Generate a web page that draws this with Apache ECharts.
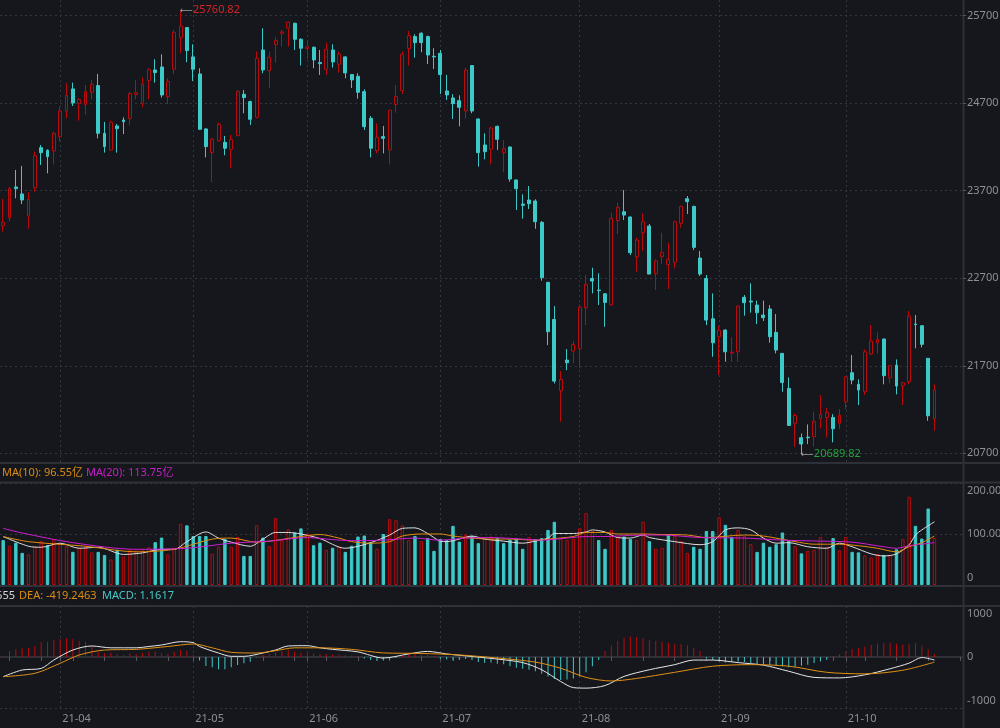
<!DOCTYPE html>
<html>
<head>
<meta charset="utf-8">
<script src="https://cdn.jsdelivr.net/npm/echarts@6/dist/echarts.min.js"></script>
<style>
html,body{margin:0;padding:0;background:#15171c;}
#main{width:1000px;height:728px;}
</style>
</head>
<body>
<div id="main"></div>
<script>
// 月份及每月交易日数
var months = ['21-03','21-04','21-05','21-06','21-07','21-08','21-09','21-10'];
var monthDays = [9,21,18,21,22,22,20,15];
var padSlots = 4;

// K线 [open, close, low, high]
var ohlc = [
[23301,23339,23232,23605],[23392,23727,23354,23746],[23743,23724,23613,23937],[23663,23594,23548,23983],
[23415,23602,23266,23682],[23735,24101,23689,24146],[24192,24135,23994,24223],[24162,24089,23899,24173],
[24154,24356,24002,24375],[24318,24611,24261,24661],[24607,24790,24527,24928],[24863,24703,24668,24935],
[24699,24741,24501,24756],[24684,24832,24569,24908],[24825,24916,24745,24966],[24901,24356,24299,25034],
[24356,24204,24135,24486],[24166,24482,24158,24501],[24440,24409,24135,24463],[24508,24489,24348,24539],
[24524,24809,24447,24828],[24798,24821,24745,24966],[24699,24920,24653,24996],[24958,25084,24745,25099],
[25080,25049,24935,25202],[25114,24794,24764,25259],[24775,24950,24691,24985],[25088,25510,25034,25537],
[25449,25583,25270,25760.82],[25564,25301,25168,25570],[25229,25088,24954,25373],[25034,24402,24394,25099],
[24406,24204,24082,24413],[24135,24291,23800,24299],[24272,24459,24261,24478],[24253,24185,24105,24326],
[24173,24284,23956,24337],[24329,24832,24326,24851],[24802,24764,24585,24851],[24718,24516,24451,24729],
[24539,25213,24527,25289],[25308,25080,25042,25556],[25072,25225,24870,25289],[25369,25415,25164,25453],
[25499,25514,25347,25537],[25556,25625,25347,25632],[25613,25430,25308,25620],[25430,25328,25130,25442],
[25324,25343,25202,25423],[25339,25194,25099,25347],[25164,25152,25023,25308],[25088,25316,25023,25392],
[25308,25171,25107,25373],[25145,25259,25049,25289],[25229,25046,24985,25235],[25027,24966,24874,25034],
[25007,24825,24752,25042],[24832,24432,24394,24859],[24527,24185,24082,24554],[24158,24310,24127,24470],
[24318,24299,24127,24440],[24166,24619,24002,24622],[24687,24775,24592,24908],[24844,25259,24806,25289],
[25324,25472,25130,25526],[25461,25392,25221,25488],[25499,25392,25282,25510],[25461,25251,25148,25472],
[25236,25229,25091,25328],[25270,25027,24806,25308],[24840,24794,24737,25023],[24760,24695,24520,24802],
[24729,24653,24436,24790],[24611,25080,24524,25107],[25130,24611,24585,25135],[24520,24135,23975,24525],
[24223,24146,24059,24356],[24173,24417,24002,24432],[24436,24287,24166,24444],[24135,24181,23910,24280],
[24200,23834,23804,24205],[23823,23724,23480,23828],[23548,23533,23381,23659],[23594,23552,23491,23754],
[23583,23346,23266,23602],[23339,22706,22672,23354],[22653,22089,21936,22660],[22230,21525,21498,22382],
[21415,21544,21060,21639],[21765,21735,21651,21891],[21868,21944,21727,21982],[21895,22371,21670,22401],
[22363,22630,22165,22737],[22698,22668,22527,22820],[22565,22558,22394,22756],[22523,22424,22146,22528],
[22394,23384,22386,23449],[23358,23510,23205,23563],[23460,23422,23365,23708],[23400,22992,22965,23405],
[22946,23137,22775,23163],[23220,23346,23015,23441],[23297,22748,22745,23320],[22752,22897,22565,22916],
[22946,22996,22862,23220],[22855,22916,22577,23106],[22881,23346,22813,23358],[23327,23521,23278,23530],
[23609,23575,23434,23640],[23521,23053,23022,23529],[22931,22748,22725,23011],[22698,22222,22165,22737],
[22237,21963,21803,22527],[22032,22104,21594,22157],[22108,21860,21746,22119],[21845,21856,21746,22024],
[21860,22382,21746,22390],[22482,22421,22272,22509],[22440,22429,22307,22642],[22394,22307,22177,22444],
[22280,22249,22211,22444],[22349,22032,21964,22394],[22082,21880,21842,22291],[21842,21510,21404,21845],
[21442,21019,21015,21567],[21042,21133,20775,21156],[20878,20806,20689.82,20927],[20885,20878,20806,21030],
[20889,21065,20775,21175],[21095,21145,20984,21366],[21110,21167,20882,21221],[21110,20981,20825,21148],
[21042,21137,20977,21202],[21289,21575,21202,21583],[21621,21537,21488,21823],[21488,21423,21251,21545],
[21404,21861,21366,21888],[21834,21983,21823,22166],[21964,22002,21842,22082],[22006,21587,21488,22010],
[21564,21701,21499,21705],[21708,21468,21373,21773],[21472,21507,21251,21510],[21518,22269,21491,22326],
[22177,22170,21899,22280],[22158,21945,21910,22162],[21785,21129,21072,21790],[21095,21423,20958,21488]
];

// 成交量(亿)
var volume = [
88,77,83,63,60,76,86,78,90,82,76,65,73,74,64,65,59,50,69,56,
69,68,68,74,84,93,60,72,120,117,96,96,96,61,75,90,75,94,57,57,
117,93,76,131,88,109,103,111,100,78,83,69,73,75,65,77,95,97,84,71,
100,129,127,117,88,96,86,92,67,90,88,116,85,99,96,82,91,95,92,82,
89,91,71,94,90,92,108,124,91,88,91,111,141,106,88,71,108,94,95,90,
88,124,86,71,73,100,96,86,63,75,71,106,106,133,118,94,108,96,80,65,
83,75,80,103,86,76,62,67,69,94,75,92,68,94,65,64,58,54,61,59,
58,70,90,173,116,91,150,92
];

// 成交量均线读数 [序号, 值]
var ma5Pts = [[0,95],[4,76],[6,74],[9,82],[12,72],[15,74],[19,60],[22,63],[25,70],[27,70],[29,85],[32,104],[34,92],[36,84],[39,76],[41,90],[43,103],[45,103],[47,100],[50,91],[54,72],[58,83],[61,98],[63,111],[65,112],[67,101],[69,86],[70,85],[72,90],[74,96],[76,90],[79,86],[82,82],[84,86],[86,92],[87,101],[90,101],[92,104],[93,108],[95,104],[96,98],[97,93],[99,92],[101,98],[102,93],[106,85],[110,79],[112,85],[114,108],[116,112],[118,108],[120,92],[122,82],[124,83],[127,75],[130,72],[132,82],[134,75],[137,61],[139,57],[141,61],[143,79],[144,98],[145,108],[147,124]];
var ma10Pts = [[0,95],[4,85],[13,76],[21,65],[27,70],[33,90],[36,92],[40,84],[47,95],[50,99],[53,92],[55,85],[58,82],[61,85],[63,96],[66,100],[69,100],[71,96],[74,92],[77,90],[80,90],[84,88],[86,90],[90,95],[92,103],[95,103],[97,100],[101,100],[104,99],[108,98],[111,93],[117,98],[120,96],[125,85],[128,80],[132,80],[135,77],[138,72],[141,65],[143,75],[145,83],[147,96]];
var ma20Pts = [[0,111],[3,102],[11,83],[21,70],[29,72],[36,82],[42,86],[48,93],[52,89],[55,87],[60,88],[65,92],[69,88],[73,92],[77,93],[82,90],[85,88],[89,92],[92,95],[95,95],[97,96],[101,98],[104,98],[110,93],[117,92],[123,88],[129,86],[134,84],[139,75],[141,72],[143,77],[147,83]];

// MACD
var macdHist = [
20,118,150,170,183,215,287,300,333,346,366,346,313,300,202,104,72,85,59,39,
72,59,85,104,104,72,59,104,137,124,39,
-59,-176,-202,-242,-242,-202,-157,-124,-91,-7,
39,59,104,118,137,110,90,80,70,60,60,50,45,40,30,20,
-30,-60,-80,-70,-50,-20,
30,50,60,55,40,20,
-30,-50,-70,-60,-40,-60,
-100,-120,-110,-130,-140,-180,-210,-230,-250,-280,-330,-380,-430,-450,-440,-420,-380,-300,
-180,-60,
120,220,320,380,400,390,370,340,320,300,280,260,250,230,180,120,
-20,-60,-90,-110,-100,-90,-100,-120,-140,-150,-160,-170,-180,-200,-190,-170,-150,-120,-90,-60,
20,60,110,150,170,200,240,260,270,280,260,240,250,270,220,150,60
];
var difPts = [[0,-386],[3,-255],[6,-224],[8,-59],[11,137],[14,216],[17,180],[21,180],[23,206],[25,235],[28,300],[30,281],[31,206],[34,78],[36,13],[38,13],[41,78],[43,137],[45,216],[48,222],[50,180],[52,150],[56,100],[60,-20],[64,60],[67,110],[70,60],[74,10],[78,-40],[82,-110],[85,-250],[88,-480],[90,-600],[92,-610],[95,-560],[98,-380],[102,-250],[106,-150],[109,-60],[112,-60],[116,-110],[120,-160],[124,-280],[128,-400],[132,-410],[136,-350],[140,-230],[143,-120],[145,-10],[147,-60]];
var deaPts = [[0,-386],[5,-320],[9,-124],[12,39],[16,137],[21,150],[26,206],[30,255],[33,180],[36,91],[40,78],[43,124],[46,180],[50,180],[55,150],[60,80],[66,70],[72,40],[78,-20],[84,-100],[88,-220],[92,-400],[96,-470],[100,-420],[106,-300],[112,-180],[118,-150],[124,-180],[130,-300],[136,-330],[142,-260],[147,-100]];

var BG = '#15171c', RED = '#bb0a0c', CYAN = '#3ec9c9', GRID = '#34373e', TXT = '#8c8f95';
var FONT = 'Noto Sans, Noto Sans CJK SC, sans-serif';

var cats = [], monthStart = {};
for (var m = 0; m < months.length; m++) {
	if (m > 0) monthStart[cats.length] = true;
	for (var d = 1; d <= monthDays[m]; d++) {
		cats.push(months[m] + '-' + (d < 10 ? '0' + d : d));
	}
}
for (var p = 1; p <= padSlots; p++) cats.push('pad' + p);

function isMonth(i) { return !!monthStart[i]; }

var volData = volume.map(function (v, i) {
	var up = i > 0 && ohlc[i][1] >= ohlc[i - 1][1];
	return {value: v, itemStyle: up ? {color: BG, borderColor: RED, borderWidth: 1} : {color: CYAN, borderColor: CYAN, borderWidth: 1}};
});
var histData = macdHist.map(function (v) {
	return {value: v, itemStyle: {color: v >= 0 ? RED : CYAN}};
});

function catAxis(idx, extra) {
	var a = {
		type: 'category', gridIndex: idx, data: cats, boundaryGap: true,
		axisLine: {show: false}, axisTick: {show: false}, axisLabel: {show: false},
		splitLine: {show: true, interval: isMonth, alignWithLabel: true, lineStyle: {color: GRID, type: [2, 3]}}
	};
	for (var k in extra) a[k] = extra[k];
	return a;
}

function lbl(fmt) {
	return {
		color: TXT, fontSize: 11, fontFamily: FONT, margin: 4, formatter: fmt,
		rich: {t: {padding: [16, 0, 0, 0], color: TXT, fontSize: 11, fontFamily: FONT},
			b: {padding: [0, 0, 14, 0], color: TXT, fontSize: 11, fontFamily: FONT}}
	};
}

var chart = echarts.init(document.getElementById('main'));
chart.setOption({
	backgroundColor: BG,
	animation: false,
	grid: [
		{left: 0, right: 37, top: 0, height: 463, outerBoundsMode: 'none'},
		{left: 0, right: 37, top: 15.67, height: 437.66, outerBoundsMode: 'none'},
		{left: 0, right: 37, top: 483, height: 102, outerBoundsMode: 'none'},
		{left: 0, right: 37, top: 606, height: 102, outerBoundsMode: 'none'}
	],
	xAxis: [
		catAxis(0, {}),
		catAxis(1, {show: false}),
		catAxis(2, {}),
		catAxis(3, {
			axisLine: {show: true, lineStyle: {color: '#2d3037', width: 2}},
			axisTick: {show: true, alignWithLabel: true, length: 4, lineStyle: {color: '#55585f'},
				interval: function (i) { return isMonth(i) || (i - 1) % 5 === 0; }},
			axisLabel: {show: true, interval: isMonth, align: 'left', margin: 5, padding: [0, 0, 0, 2],
				color: TXT, fontSize: 11, fontFamily: FONT,
				formatter: function (v) { return v.slice(0, 5); }}
		})
	],
	yAxis: [
		{type: 'value', gridIndex: 0, min: 20589.5, max: 25879, show: false},
		{type: 'value', gridIndex: 1, position: 'right', min: 20700, max: 25700, interval: 1000,
			axisLine: {show: false}, axisTick: {show: true, length: 3, lineStyle: {color: '#55585f'}},
			axisLabel: {color: TXT, fontSize: 11, fontFamily: FONT, margin: 4,
				formatter: function (v) { return String(v); }},
			splitLine: {lineStyle: {color: GRID, type: [2, 3]}}},
		{type: 'value', gridIndex: 2, position: 'right', min: 0, max: 200, interval: 100,
			axisLine: {show: false}, axisTick: {show: false},
			axisLabel: lbl(function (v) { return v === 200 ? '{t|200.00}' : v === 0 ? '{b|0}' : '100.00'; }),
			splitLine: {lineStyle: {color: GRID, type: [2, 3]}}},
		{type: 'value', gridIndex: 3, position: 'right', min: -1000, max: 1000, interval: 1000,
			axisLine: {show: false}, axisTick: {show: false},
			axisLabel: lbl(function (v) { return v === 1000 ? '{t|1000}' : v === -1000 ? '{b|-1000}' : '0'; }),
			splitLine: {lineStyle: {color: GRID, type: [2, 3]}}}
	],
	series: [
		{
			type: 'candlestick', xAxisIndex: 0, yAxisIndex: 0, data: ohlc, barWidth: 3.4,
			itemStyle: {color: BG, color0: CYAN, borderColor: RED, borderColor0: CYAN, borderWidth: 1},
			markPoint: {
				symbol: 'circle', symbolSize: 1, itemStyle: {color: 'rgba(0,0,0,0)'},
				label: {show: true, position: 'right', distance: -1,
					formatter: function (p) {
						return '{a|\u27F5}{' + (p.data.type === 'max' ? 'h' : 'l') + '|' + Number(p.value).toFixed(2) + '}';
					},
					rich: {
						a: {color: '#9a9ca1', fontSize: 9, fontFamily: 'DejaVu Sans'},
						h: {color: '#d3262b', fontSize: 11, fontFamily: FONT},
						l: {color: '#22a33c', fontSize: 11, fontFamily: FONT}
					}
				},
				data: [{type: 'max', valueDim: 'highest'}, {type: 'min', valueDim: 'lowest'}]
			}
		},
		{type: 'bar', xAxisIndex: 2, yAxisIndex: 2, data: volData, barWidth: 3.4},
		{type: 'line', xAxisIndex: 2, yAxisIndex: 2, data: ma5Pts, symbol: 'none', smooth: 0.3, lineStyle: {color: '#dedede', width: 1}},
		{type: 'line', xAxisIndex: 2, yAxisIndex: 2, data: ma10Pts, symbol: 'none', smooth: 0.3, lineStyle: {color: '#e08c10', width: 1}},
		{type: 'line', xAxisIndex: 2, yAxisIndex: 2, data: ma20Pts, symbol: 'none', smooth: 0.3, lineStyle: {color: '#d21cd2', width: 1}},
		{type: 'bar', xAxisIndex: 3, yAxisIndex: 3, data: histData, barWidth: 1},
		{type: 'line', xAxisIndex: 3, yAxisIndex: 3, data: difPts, symbol: 'none', smooth: 0.3, lineStyle: {color: '#e6e6e6', width: 1}},
		{type: 'line', xAxisIndex: 3, yAxisIndex: 3, data: deaPts, symbol: 'none', smooth: 0.3, lineStyle: {color: '#e09014', width: 1}}
	],
	graphic: [
		{type: 'line', silent: true, shape: {x1: 0, y1: 463, x2: 1000, y2: 463}, style: {stroke: '#2d3037', lineWidth: 2}},
		{type: 'line', silent: true, shape: {x1: 0, y1: 482.5, x2: 1000, y2: 482.5}, style: {stroke: '#2d3037', lineWidth: 2}},
		{type: 'line', silent: true, shape: {x1: 0, y1: 586, x2: 1000, y2: 586}, style: {stroke: '#2d3037', lineWidth: 2}},
		{type: 'line', silent: true, shape: {x1: 0, y1: 606, x2: 1000, y2: 606}, style: {stroke: '#2d3037', lineWidth: 2}},
		{type: 'line', silent: true, shape: {x1: 963.5, y1: 0, x2: 963.5, y2: 728}, style: {stroke: '#2d3037', lineWidth: 2}},
		{type: 'text', x: 2, y: 472.5, style: {text: 'MA(10): 96.55亿', fill: '#d98c12', font: '11px ' + FONT, textVerticalAlign: 'middle', verticalAlign: 'middle'}},
		{type: 'text', x: 86, y: 472.5, style: {text: 'MA(20): 113.75亿', fill: '#c81ec8', font: '11px ' + FONT, textVerticalAlign: 'middle', verticalAlign: 'middle'}},
		{type: 'text', x: 15, y: 595.5, style: {text: 'DIF: -418.6655', fill: '#d8d8d8', font: '11px ' + FONT, textAlign: 'right', align: 'right', textVerticalAlign: 'middle', verticalAlign: 'middle'}},
		{type: 'text', x: 19, y: 595.5, style: {text: 'DEA: -419.2463', fill: '#d98c12', font: '11px ' + FONT, textVerticalAlign: 'middle', verticalAlign: 'middle'}},
		{type: 'text', x: 102, y: 595.5, style: {text: 'MACD: 1.1617', fill: '#45c8c8', font: '11px ' + FONT, textVerticalAlign: 'middle', verticalAlign: 'middle'}}
	]
});
</script>
</body>
</html>
